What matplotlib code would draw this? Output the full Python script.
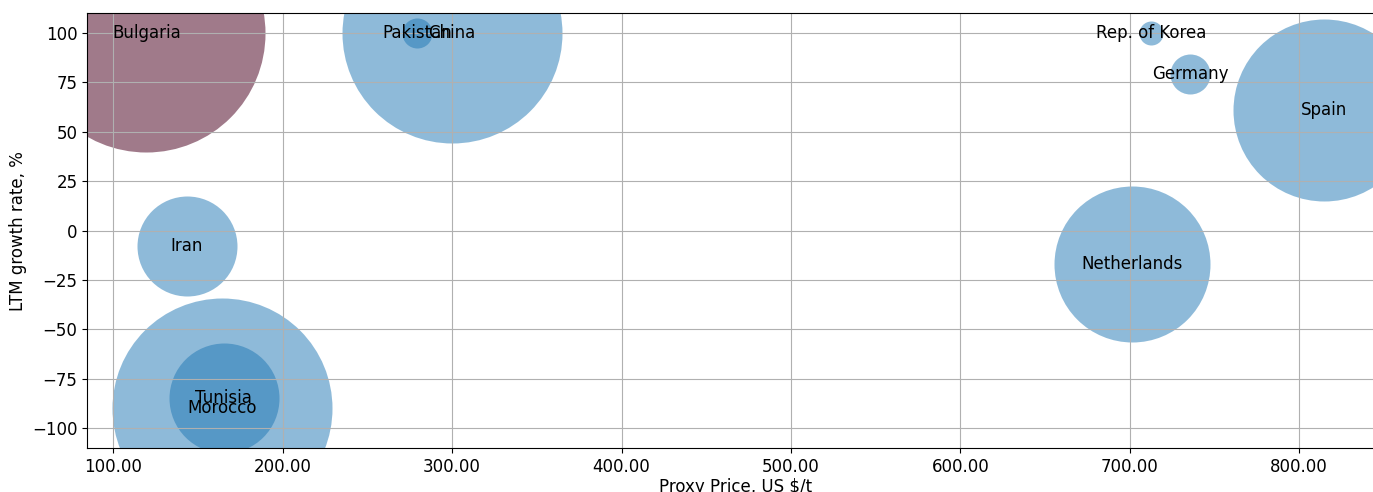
import matplotlib
matplotlib.use("Agg")
import matplotlib.pyplot as plt
from matplotlib.ticker import FormatStrFormatter

countries = ["Bulgaria", "China", "Pakistan", "Iran", "Morocco", "Tunisia",
             "Rep. of Korea", "Germany", "Spain", "Netherlands"]
prices = [119.5, 300.0, 279.5, 143.5, 164.3, 165.3, 712.4, 735.8, 814.6, 701.6]
growth = [100.0, 100.0, 100.0, -7.6, -90.0, -84.7, 100.0, 79.4, 61.1, -16.8]
bubble_sizes = [29370, 25090, 467, 5184, 25090, 6273, 299, 829, 17170, 12615]
highlight = ["Bulgaria"]

fig = plt.figure(figsize=(13.73, 4.92), dpi=100)
W, H = 1373, 492
left_px, right_px_scale = 87.3, 1.694
x_lo, x_hi = 84.65, 850.0
ax_w = (x_hi - x_lo) * right_px_scale
ax = fig.add_axes([left_px / W, 44 / H, ax_w / W, (448 - 13.3) / H])

for c, x, y, s in zip(countries, prices, growth, bubble_sizes):
    if c in highlight:
        ax.scatter([x], [y], s=s, color="#61213c", alpha=0.6, linewidths=0)
    else:
        ax.scatter([x], [y], s=s, color="#1f77b4", alpha=0.5, linewidths=0)
    ax.text(x, y, c, ha="center", va="center", fontsize=12, color="black")

ax.set_xlim(x_lo, x_hi)
ax.set_ylim(-110, 110)
ax.set_xticks([100, 200, 300, 400, 500, 600, 700, 800])
ax.set_yticks([-100, -75, -50, -25, 0, 25, 50, 75, 100])
ax.xaxis.set_major_formatter(FormatStrFormatter("%.2f"))
ax.tick_params(labelsize=12)
ax.grid(True)
ax.set_xlabel("Proxy Price, US $/t", fontsize=12, labelpad=2)
ax.set_ylabel("LTM growth rate, %", fontsize=12)

fig.savefig("out.png", dpi=100)
